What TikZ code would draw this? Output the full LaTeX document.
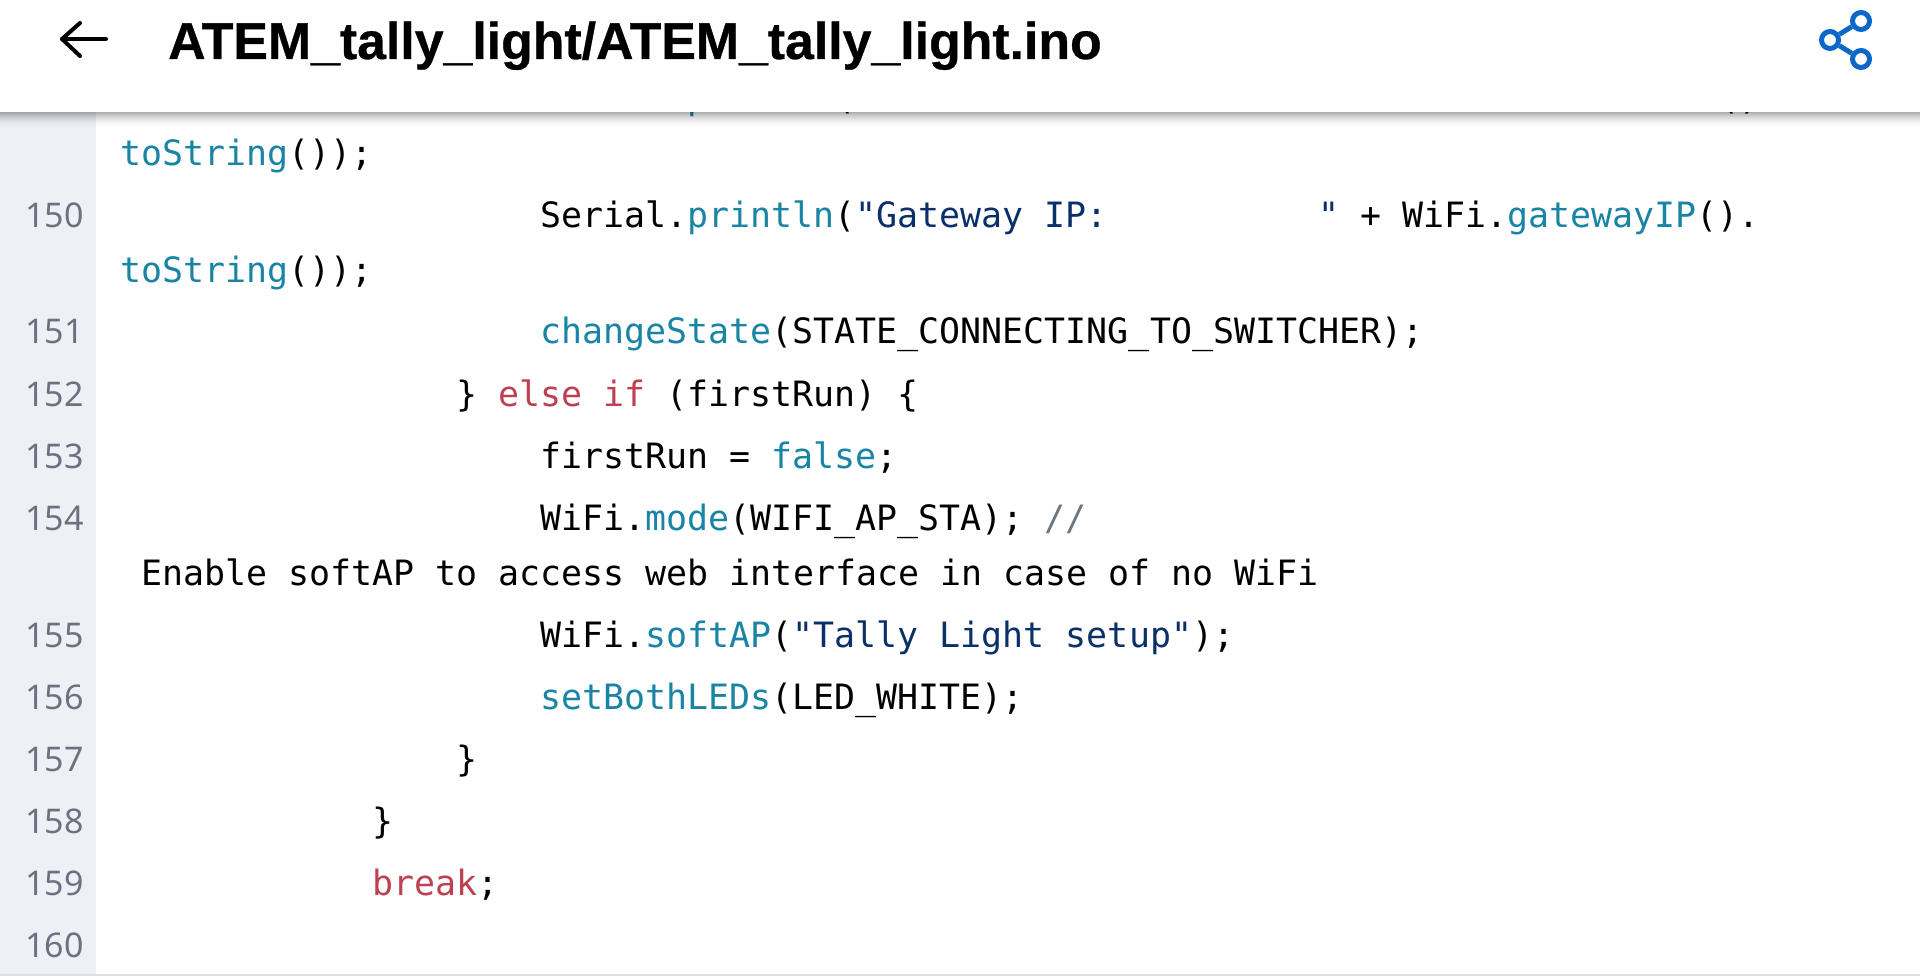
\documentclass[tikz,border=0pt]{standalone}
\usepackage{fontspec}
\setmonofont{DejaVu Sans Mono}
\setsansfont{Noto Sans}
\newfontfamily\titlefont[BoldFeatures={FakeBold=0.6}]{Liberation Sans}
\usetikzlibrary{positioning}
\definecolor{gutterbg}{HTML}{EFF0F6}
\definecolor{numgray}{HTML}{6E7081}
\definecolor{fnteal}{HTML}{1A84A5}
\definecolor{kwred}{HTML}{BD4150}
\definecolor{strnavy}{HTML}{0A3069}
\definecolor{cmtgray}{HTML}{6E7781}
\definecolor{shareblue}{HTML}{0B68C8}
\newcommand{\cfn}[1]{\textcolor{fnteal}{#1}}
\newcommand{\ckw}[1]{\textcolor{kwred}{#1}}
\newcommand{\cstr}[1]{\textcolor{strnavy}{#1}}
\newcommand{\ccmt}[1]{\textcolor{cmtgray}{#1}}
\tikzset{
    codeline/.style = {anchor=base west,inner sep=0pt,text=black,font=\ttfamily\fontsize{34.9}{40}\selectfont},
    linenum/.style = {anchor=base east,inner sep=0pt,text=numgray,font=\sffamily\fontsize{34}{40}\selectfont},
    titletext/.style = {anchor=base west,inner sep=0pt,text=black,font=\titlefont\bfseries\fontsize{51.8}{56}\selectfont},
    sharedot/.style = {circle,draw=shareblue,line width=5pt,minimum size=17pt,inner sep=0pt},
    shareedge/.style = {draw=shareblue,line width=5pt},
    backarrow/.style = {draw=black,line width=4pt,line cap=round,line join=round}
}

\begin{document}
\begin{tikzpicture}[x=1pt,y=-1pt]
  \useasboundingbox (0,0) rectangle (1920,976);
  \fill[white] (0,0) rectangle (1920,976);
  % gutter
  \fill[gutterbg] (0,112) rectangle (96,974);
  \fill[black!12] (0,974) rectangle (1920,976);
  % line numbers
  \foreach \n/\y in {150/228,151/344,152/406,153/468,154/530,155/647,156/709,157/771,158/833,159/895,160/957}
    \node[linenum] (num\n) at (84,\y) {\n};
  % code
  \node[codeline] (frag149a) at (687.5,110) {\cfn{p}};
  \node[codeline] (frag149b) at (834.5,110) {(};
  \node[codeline] (frag149c) at (1718,110) {()};
  \node[codeline] (wrap149) at (120.5,166) {\cfn{toString}());};
  \node[codeline] (line150) at (540.5,228) {Serial.\cfn{println}(\cstr{"Gateway~IP:~~~~~~~~~~"}~+~WiFi.\cfn{gatewayIP}().};
  \node[codeline] (wrap150) at (120.5,283) {\cfn{toString}());};
  \node[codeline] (line151) at (540.5,344) {\cfn{changeState}(STATE\_CONNECTING\_TO\_SWITCHER);};
  \node[codeline] (line152) at (456.5,406) {\}~\ckw{else}~\ckw{if}~(firstRun)~\{};
  \node[codeline] (line153) at (540.5,468) {firstRun~=~\cfn{false};};
  \node[codeline] (line154) at (540.5,530) {WiFi.\cfn{mode}(WIFI\_AP\_STA);~\ccmt{//}};
  \node[codeline] (wrap154) at (141.5,585) {Enable~softAP~to~access~web~interface~in~case~of~no~WiFi};
  \node[codeline] (line155) at (540.5,647) {WiFi.\cfn{softAP}(\cstr{"Tally~Light~setup"});};
  \node[codeline] (line156) at (540.5,709) {\cfn{setBothLEDs}(LED\_WHITE);};
  \node[codeline] (line157) at (456.5,771) {\}};
  \node[codeline] (line158) at (372.5,833) {\}};
  \node[codeline] (line159) at (372.5,895) {\ckw{break};};
  % header bar and its shadow
  \foreach \i in {0,...,15}
    \fill[black,opacity={0.32*(1-\i/16)*(1-\i/16)}] (0,112+\i) rectangle (1920,113+\i);
  \fill[white] (0,0) rectangle (1920,112);
  \node[titletext] (title) at (168,59) {ATEM\_tally\_light/ATEM\_tally\_light.ino};
  % back arrow
  \coordinate (tip) at (62,39);
  \coordinate (tail) at (106,39);
  \coordinate (barbup) at (80,23);
  \coordinate (barbdown) at (80,56);
  \draw[backarrow] (tail) -- (tip);
  \draw[backarrow] (barbup) -- (tip) -- (barbdown);
  % share icon
  \node[sharedot] (shareup) at (1861,21) {};
  \node[sharedot] (shareleft) at (1830,40) {};
  \node[sharedot] (sharedown) at (1861,59) {};
  \draw[shareedge] (shareleft) -- (shareup);
  \draw[shareedge] (shareleft) -- (sharedown);
\end{tikzpicture}
\end{document}
